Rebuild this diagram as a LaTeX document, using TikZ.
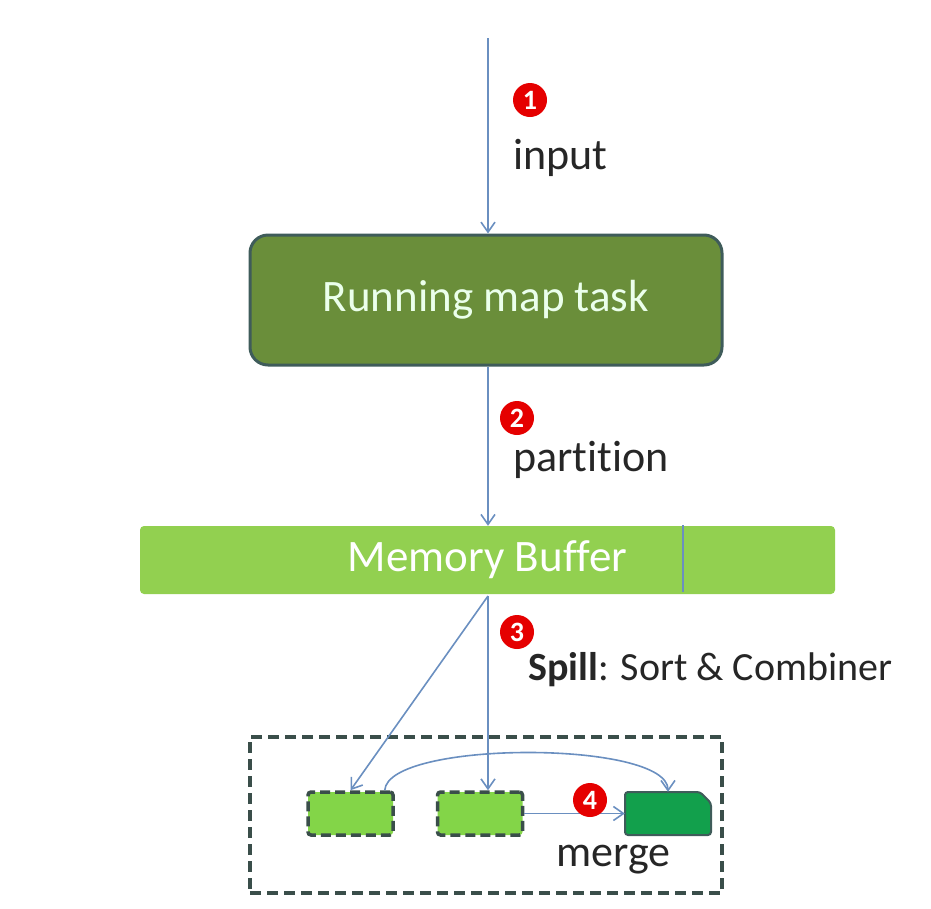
\documentclass[tikz,border=0pt]{standalone}
\usepackage{fontspec}
\setmainfont{Carlito}[Ligatures={NoCommon,TeX}]
\usetikzlibrary{arrows.meta}
\definecolor{arr}{HTML}{6A8FC0}
\definecolor{olive}{HTML}{6A8E3A}
\definecolor{oliveb}{HTML}{3F5C5A}
\definecolor{light}{HTML}{92D050}
\definecolor{dgreen}{HTML}{12A04C}
\definecolor{bdr}{HTML}{3A4E4A}
\begin{document}
\begin{tikzpicture}[x=1pt,y=-1pt,
  conn/.style={draw=arr,line width=1.6pt,-{Straight Barb[length=10pt,width=14pt]}},
  num/.style={circle,fill=red!90!black,text=white,inner sep=0pt,minimum size=34pt,font=\fontsize{28}{28}\selectfont\bfseries},
  lbl/.style={anchor=west,inner sep=0pt,font=\fontsize{44}{44}\selectfont,text=black!85},
  spill/.style={draw=bdr,dashed,line width=3.5pt,dash pattern=on 10pt off 5pt,fill=light!90!green,rounded corners=3pt,minimum width=85pt,minimum height=43pt,inner sep=0pt}]
\useasboundingbox (0,0) rectangle (931,908);
\coordinate (top) at (488,38);
\node[draw=oliveb,line width=3pt,fill=olive,rounded corners=18pt,minimum width=472pt,minimum height=130pt,text=white!92!green,font=\fontsize{45}{45}\selectfont] (map) at (486,300) {Running map task};
\node[fill=light,rounded corners=4pt,minimum width=695pt,minimum height=68pt,text=white,font=\fontsize{45}{45}\selectfont] (mem) at (487.5,560) {Memory Buffer};
\draw[arr,line width=1.6pt] (683,525) -- (683,592);
\draw[conn] (top) -- (map.north -| top);
\node[num] (n1) at (530,100) {1};
\node[lbl] (t1) at (513,158) {input};
\draw[conn] (map.south -| top) -- (mem.north -| top);
\node[num] (n2) at (517,418) {2};
\node[lbl] (t2) at (513,460) {partition};
\node[num] (n3) at (517,632) {3};
\node[lbl,font=\fontsize{40}{40}\selectfont] (t3) at (528,670) {\textbf{Spill}: Sort \& Combiner};
\node[draw=bdr,dashed,line width=3.5pt,dash pattern=on 11pt off 6pt,minimum width=472pt,minimum height=156pt,inner sep=0pt] (frame) at (486,815) {};
\node[spill] (b1) at (350.5,813.5) {};
\node[spill] (b2) at (480,813.5) {};
\fill[dgreen,draw=oliveb,line width=2pt,rounded corners=3pt] (625,792) -- (700,792) -- (711,803) -- (711,835) -- (625,835) -- cycle;
\node[minimum width=86pt,minimum height=43pt,inner sep=0pt] (b3) at (668,813.5) {};
\coordinate (m) at (488,596);
\draw[conn] (m) -- (b1.north);
\draw[conn] (m) -- (b2.north -| m);
\draw[conn] (b2.east) -- (b3.west);
\draw[conn] ([xshift=-10pt]b1.north east) .. controls (388,740) and (668,740) .. (b3.north);
\node[num] (n4) at (590,800) {4};
\node[lbl] (t4) at (556,860) {merge};
\end{tikzpicture}
\end{document}
